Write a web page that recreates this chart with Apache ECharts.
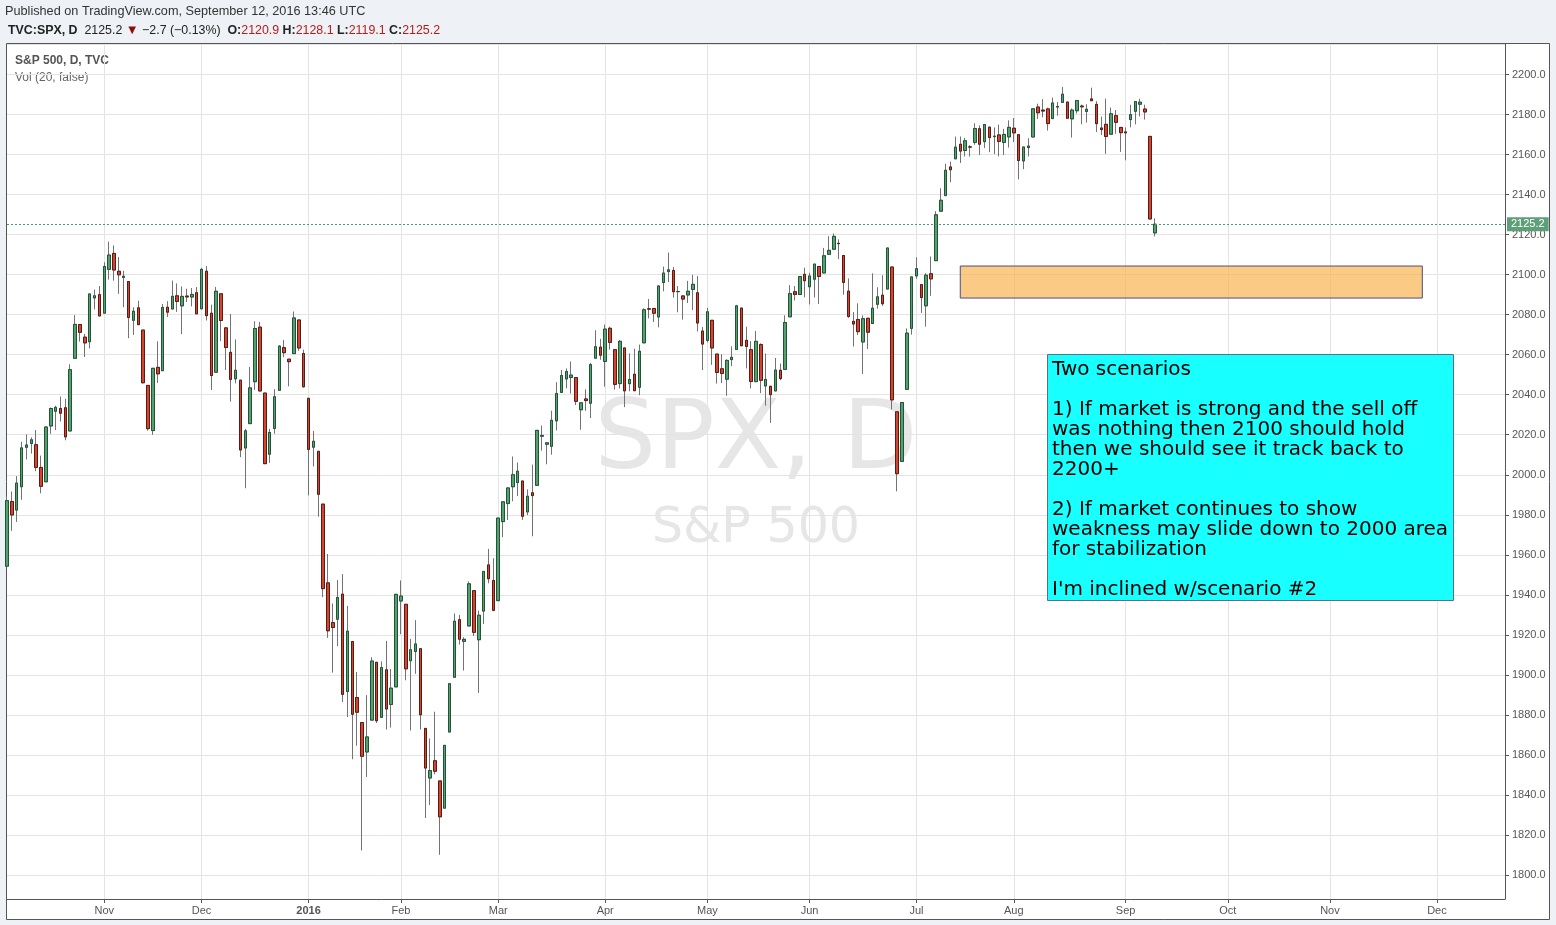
<!DOCTYPE html>
<html>
<head>
<meta charset="utf-8">
<title>SPX, D</title>
<script src="https://cdn.jsdelivr.net/npm/echarts@6/dist/echarts.min.js"></script>
<style>
  html, body { margin: 0; padding: 0; background: #eef1f5; }
  #chart { width: 1556px; height: 925px; }
</style>
</head>
<body>
<div id="chart"></div>
<script>
// daily S&P 500 bars, Oct 5 2015 .. Sep 12 2016 (one row per month)
const openPx = [
  1954.33, 1986.63, 1982.34, 1994.01, 2013.73, 2015.65, 2015.00, 2003.66, 1996.47, 2024.37, 2031.73, 2033.13, 2033.47, 2021.88, 2058.19, 2075.08, 2068.75, 2066.48, 2088.35, 2090.00,
  2080.76, 2102.63, 2110.60, 2101.68, 2098.60, 2096.56, 2077.19, 2083.41, 2072.29, 2044.64, 2022.08, 2053.67, 2051.99, 2083.70, 2082.82, 2089.41, 2084.42, 2089.30, 2088.82, 2090.95,
  2082.93, 2101.71, 2080.71, 2051.24, 2090.42, 2073.39, 2061.17, 2047.93, 2047.27, 2013.37, 2025.55, 2046.50, 2073.76, 2040.81, 2010.27, 2023.15, 2042.20, 2063.52, 2057.77, 2060.54, 2077.34, 2060.59,
  2038.20, 2013.78, 2011.71, 1985.32, 1945.97, 1926.12, 1927.83, 1940.34, 1891.68, 1916.68, 1888.66, 1876.18, 1861.46, 1877.40, 1906.28, 1878.79, 1902.52, 1885.22, 1894.00,
  1936.94, 1935.26, 1907.07, 1911.67, 1913.07, 1873.25, 1848.46, 1857.10, 1847.00, 1833.40, 1871.44, 1898.80, 1927.57, 1916.74, 1924.44, 1942.08, 1917.56, 1931.87, 1954.95, 1947.13,
  1937.09, 1976.60, 1985.60, 1994.01, 1996.11, 1996.88, 1981.44, 1990.97, 1994.71, 2019.27, 2015.27, 2014.24, 2026.90, 2041.16, 2047.88, 2048.64, 2048.55, 2032.48, 2037.89, 2035.75, 2058.27, 2063.77,
  2056.62, 2073.19, 2062.50, 2045.56, 2063.37, 2045.54, 2050.23, 2043.72, 2065.92, 2082.89, 2083.10, 2078.83, 2096.05, 2101.52, 2102.09, 2091.49, 2089.37, 2089.84, 2092.57, 2090.93, 2071.82,
  2067.17, 2077.18, 2060.30, 2052.95, 2047.77, 2057.55, 2062.63, 2083.29, 2067.17, 2062.50, 2046.53, 2065.04, 2044.38, 2044.21, 2041.88, 2052.23, 2052.65, 2078.93, 2091.44, 2090.06, 2100.13,
  2093.94, 2097.71, 2104.07, 2100.83, 2110.18, 2112.71, 2115.65, 2109.57, 2091.75, 2076.65, 2077.60, 2066.36, 2078.20, 2075.58, 2085.19, 2089.75, 2092.80, 2103.81, 2031.45, 2006.67, 2042.69, 2073.17,
  2099.34, 2095.05, 2084.43, 2100.42, 2106.97, 2131.72, 2139.50, 2153.81, 2157.88, 2165.13, 2162.04, 2163.79, 2166.10, 2172.91, 2166.47, 2173.71, 2168.97, 2169.81, 2166.05, 2168.83,
  2173.15, 2169.94, 2156.81, 2163.51, 2168.79, 2183.76, 2182.24, 2182.81, 2177.97, 2183.74, 2186.08, 2186.24, 2177.84, 2181.90, 2184.24, 2181.58, 2187.81, 2185.09, 2173.29, 2175.10, 2170.19, 2179.45, 2173.56,
  2171.33, 2177.49, 2181.61, 2185.17, 2182.76, 2169.08, 2120.86
]
const highPx = [
  1989.17, 1991.62, 1999.31, 2016.50, 2020.13, 2018.66, 2022.34, 2009.56, 2024.15, 2033.54, 2034.45, 2039.12, 2037.97, 2055.20, 2079.74, 2075.14, 2070.37, 2090.35, 2092.52, 2094.32,
  2106.20, 2116.48, 2114.59, 2108.78, 2101.91, 2096.56, 2083.67, 2086.94, 2072.29, 2044.64, 2053.22, 2066.69, 2085.31, 2086.74, 2097.06, 2095.61, 2094.12, 2093.00, 2093.29, 2093.81,
  2103.37, 2104.27, 2085.00, 2093.84, 2090.42, 2073.85, 2080.33, 2067.65, 2047.27, 2022.92, 2053.87, 2076.72, 2076.37, 2040.81, 2022.90, 2042.74, 2064.73, 2067.36, 2057.77, 2081.56, 2077.34, 2062.54,
  2038.20, 2021.94, 2011.71, 1985.32, 1960.40, 1935.65, 1947.38, 1950.33, 1934.47, 1916.68, 1901.44, 1876.18, 1889.85, 1908.85, 1906.28, 1906.73, 1916.99, 1902.96, 1940.24,
  1947.20, 1935.26, 1918.01, 1927.35, 1913.07, 1873.25, 1868.25, 1881.60, 1847.00, 1864.78, 1895.77, 1930.68, 1930.00, 1918.78, 1946.70, 1942.08, 1932.08, 1951.83, 1962.96, 1958.27,
  1978.35, 1986.51, 1993.69, 2009.13, 2006.12, 1996.88, 1992.69, 2005.08, 2022.37, 2024.57, 2015.94, 2032.02, 2046.24, 2052.36, 2053.13, 2056.60, 2048.55, 2036.04, 2042.67, 2055.91, 2072.21, 2067.92,
  2075.07, 2074.02, 2062.50, 2067.33, 2063.37, 2060.63, 2062.93, 2065.05, 2083.18, 2087.84, 2083.22, 2094.66, 2104.05, 2111.05, 2103.78, 2094.32, 2089.37, 2096.87, 2099.89, 2099.30, 2073.85,
  2083.42, 2077.18, 2060.30, 2060.23, 2057.72, 2064.15, 2084.87, 2083.29, 2073.99, 2066.79, 2071.88, 2065.69, 2060.61, 2044.21, 2058.35, 2055.58, 2079.67, 2094.73, 2094.30, 2099.06, 2103.48,
  2100.97, 2105.26, 2104.07, 2113.36, 2119.22, 2120.55, 2117.64, 2109.57, 2098.12, 2081.30, 2085.65, 2079.62, 2078.20, 2100.66, 2093.66, 2099.71, 2113.32, 2103.81, 2031.45, 2036.09, 2073.13, 2098.94,
  2108.71, 2095.05, 2100.72, 2109.08, 2131.71, 2143.16, 2155.40, 2156.45, 2168.99, 2169.05, 2168.35, 2164.63, 2175.63, 2174.56, 2175.11, 2173.71, 2173.54, 2174.98, 2172.85, 2177.09,
  2178.29, 2170.20, 2163.79, 2168.19, 2182.87, 2185.44, 2187.66, 2183.41, 2188.45, 2186.28, 2193.81, 2186.24, 2183.08, 2187.03, 2185.00, 2185.15, 2193.42, 2186.66, 2179.00, 2187.94, 2183.48, 2182.27, 2173.79,
  2173.56, 2184.87, 2186.57, 2187.87, 2184.94, 2169.08, 2128.10
]
const lowPx = [
  1954.33, 1971.99, 1976.44, 1987.53, 2007.61, 2010.55, 2001.78, 1990.73, 1996.47, 2020.46, 2022.31, 2026.61, 2017.22, 2021.88, 2058.19, 2066.53, 2058.84, 2063.11, 2082.63, 2079.34,
  2080.76, 2097.51, 2096.98, 2090.41, 2083.74, 2068.24, 2069.91, 2074.85, 2045.66, 2022.02, 2019.94, 2045.90, 2051.99, 2078.76, 2082.82, 2081.39, 2070.29, 2086.30, 2084.13, 2080.41,
  2082.93, 2077.11, 2042.35, 2051.24, 2066.78, 2052.32, 2036.53, 2045.67, 2008.80, 1993.26, 2025.55, 2042.43, 2041.66, 2005.33, 2005.93, 2020.49, 2042.20, 2058.73, 2044.20, 2060.54, 2061.97, 2043.62,
  1989.68, 2004.17, 1979.05, 1938.83, 1918.46, 1901.10, 1914.35, 1886.41, 1878.93, 1857.83, 1864.60, 1812.29, 1848.98, 1877.40, 1875.97, 1878.79, 1872.70, 1873.65, 1894.00,
  1920.30, 1897.29, 1872.23, 1900.52, 1872.65, 1828.46, 1834.94, 1850.32, 1810.10, 1833.40, 1871.44, 1898.80, 1915.09, 1902.17, 1924.44, 1919.44, 1891.00, 1925.41, 1945.78, 1931.81,
  1937.09, 1968.80, 1977.37, 1986.77, 1989.38, 1977.43, 1979.84, 1969.25, 1994.71, 2012.05, 2005.23, 2010.04, 2022.16, 2041.16, 2043.14, 2040.57, 2034.86, 2022.49, 2031.96, 2028.31, 2058.27, 2057.46,
  2043.98, 2062.57, 2042.56, 2043.09, 2033.80, 2041.69, 2041.88, 2039.74, 2065.92, 2078.13, 2076.31, 2073.65, 2091.68, 2096.32, 2088.52, 2081.20, 2077.52, 2085.80, 2082.31, 2071.62, 2052.28,
  2066.11, 2054.89, 2045.55, 2045.77, 2039.45, 2054.31, 2062.63, 2064.46, 2053.13, 2043.13, 2046.53, 2040.82, 2034.49, 2025.91, 2041.88, 2047.26, 2052.65, 2078.93, 2087.08, 2090.06, 2088.66,
  2085.10, 2088.59, 2085.36, 2100.83, 2110.18, 2112.71, 2107.73, 2089.96, 2078.46, 2064.10, 2069.80, 2050.37, 2062.84, 2075.58, 2083.02, 2084.36, 2092.80, 2032.57, 1991.68, 2006.67, 2042.69, 2070.00,
  2097.90, 2080.86, 2074.02, 2089.39, 2106.97, 2131.72, 2139.50, 2146.21, 2157.88, 2155.79, 2159.07, 2159.01, 2164.89, 2159.75, 2163.24, 2161.20, 2160.18, 2159.07, 2159.74, 2163.49,
  2166.21, 2147.58, 2152.70, 2159.07, 2168.79, 2177.85, 2178.61, 2172.00, 2177.97, 2179.42, 2186.08, 2178.14, 2168.50, 2180.46, 2175.13, 2175.96, 2186.80, 2171.25, 2169.74, 2160.39, 2170.19, 2170.41, 2161.35,
  2157.09, 2173.59, 2175.10, 2179.07, 2177.49, 2127.81, 2119.10
]
const closePx = [
  1987.05, 1979.92, 1995.83, 2013.43, 2014.89, 2017.46, 2003.69, 1994.24, 2023.86, 2033.11, 2033.66, 2030.77, 2018.94, 2052.51, 2075.15, 2071.18, 2065.89, 2090.35, 2089.41, 2079.36,
  2104.05, 2109.79, 2102.31, 2099.93, 2099.20, 2078.58, 2081.72, 2075.00, 2045.97, 2023.04, 2053.19, 2050.44, 2083.58, 2081.24, 2089.17, 2086.59, 2089.14, 2088.87, 2090.11, 2080.41,
  2102.63, 2079.51, 2049.62, 2091.69, 2077.07, 2063.59, 2047.62, 2052.23, 2012.37, 2021.94, 2043.41, 2073.07, 2041.89, 2005.55, 2021.15, 2038.97, 2064.29, 2060.99, 2056.50, 2078.36, 2063.36, 2043.94,
  2012.66, 2016.71, 1990.26, 1943.09, 1922.03, 1923.67, 1938.68, 1890.28, 1921.84, 1880.33, 1881.33, 1859.33, 1868.99, 1906.90, 1877.08, 1903.63, 1882.95, 1893.36, 1940.24,
  1939.38, 1903.03, 1912.53, 1915.45, 1880.05, 1853.44, 1852.21, 1851.86, 1829.08, 1864.78, 1895.58, 1926.82, 1917.83, 1917.78, 1945.50, 1921.27, 1929.80, 1951.70, 1948.05, 1932.23,
  1978.35, 1986.45, 1993.40, 1999.99, 2001.76, 1979.26, 1989.26, 1989.57, 2022.19, 2019.64, 2015.93, 2027.22, 2040.59, 2049.58, 2051.60, 2049.80, 2036.71, 2035.94, 2037.05, 2055.01, 2063.95, 2059.74,
  2072.78, 2066.13, 2045.17, 2066.66, 2041.91, 2047.60, 2041.99, 2061.72, 2082.42, 2082.78, 2080.73, 2094.34, 2100.80, 2102.40, 2091.48, 2091.58, 2087.79, 2091.70, 2095.15, 2075.81, 2065.30,
  2081.43, 2063.37, 2051.12, 2050.63, 2057.14, 2058.69, 2084.39, 2064.46, 2064.11, 2046.61, 2066.66, 2047.21, 2047.63, 2040.04, 2052.32, 2048.04, 2076.06, 2090.54, 2090.10, 2099.06, 2096.95,
  2099.33, 2105.26, 2099.13, 2109.41, 2112.13, 2119.12, 2115.48, 2096.07, 2079.06, 2075.32, 2071.50, 2077.99, 2071.22, 2083.25, 2088.90, 2085.45, 2113.32, 2037.41, 2000.54, 2036.09, 2070.77, 2098.86,
  2102.95, 2088.55, 2099.73, 2097.90, 2129.90, 2137.16, 2152.14, 2152.43, 2163.75, 2161.74, 2166.89, 2163.78, 2173.02, 2165.17, 2175.03, 2168.48, 2169.18, 2166.58, 2170.06, 2173.60,
  2170.84, 2157.03, 2163.79, 2164.25, 2182.87, 2180.89, 2181.74, 2175.49, 2185.79, 2184.05, 2190.15, 2178.15, 2182.22, 2187.02, 2183.87, 2182.64, 2186.90, 2175.44, 2172.47, 2169.04, 2180.38, 2176.12, 2170.95,
  2170.86, 2179.98, 2186.48, 2186.16, 2181.30, 2127.81, 2125.20
]

// calendar for the time axis (bars, then empty future days up to late Dec 2016)
const firstDay = '2015-10-05'
const axisEndDay = '2016-12-21'
const holidays = ['2015-11-26', '2015-12-25', '2016-01-01', '2016-01-18', '2016-02-15', '2016-03-25', '2016-05-30', '2016-07-04', '2016-09-05']
const monthNames = ['Jan', 'Feb', 'Mar', 'Apr', 'May', 'Jun', 'Jul', 'Aug', 'Sep', 'Oct', 'Nov', 'Dec']

// support zone and note (annotation, drawn by the author)
const zoneDays = ['2016-07-15', '2016-11-28']
const zonePrices = [2104.3, 2088.3]
const noteLines = [
  'Two scenarios',
  '',
  '1) If market is strong and the sell off',
  'was nothing then 2100 should hold',
  'then we should see it track back to',
  '2200+',
  '',
  '2) If market continues to show',
  'weakness may slide down to 2000 area',
  'for stabilization',
  '',
  "I'm inclined w/scenario #2"
]

function tradingDays() {
  const out = []
  const d = new Date(firstDay + 'T00:00:00Z')
  const end = new Date(axisEndDay + 'T00:00:00Z')
  while (d <= end) {
    const wd = d.getUTCDay()
    const s = d.toISOString().slice(0, 10)
    if (wd !== 0 && wd !== 6 && !holidays.includes(s)) out.push(s)
    d.setUTCDate(d.getUTCDate() + 1)
  }
  return out
}

const days = tradingDays()
const isMonthStart = i => i > 0 && days[i].slice(5, 7) !== days[i - 1].slice(5, 7)
const lastClose = closePx[closePx.length - 1]

const candles = closePx.map((c, i) => [openPx[i], c, lowPx[i], highPx[i]])
const bodies = closePx.map((c, i) => [openPx[i], c, Math.min(openPx[i], c), Math.max(openPx[i], c)])

const uiFont = '"Liberation Sans", Arial, sans-serif'
const wickColor = '#737375'
const gridColor = '#e4e4e4'
const axisColor = '#555'

const chart = echarts.init(document.getElementById('chart'))
chart.setOption({
  animation: false,
  backgroundColor: '#eef1f5',
  grid: { left: 7, right: 51, top: 44, bottom: 26 },
  xAxis: {
    type: 'category', data: days, boundaryGap: false,
    axisLine: { lineStyle: { color: axisColor } },
    axisTick: { interval: isMonthStart, length: 4, lineStyle: { color: axisColor } },
    axisLabel: {
      interval: isMonthStart, margin: 6, color: axisColor, fontSize: 11, fontFamily: uiFont,
      formatter: v => v.slice(5, 7) === '01' ? '{y|' + v.slice(0, 4) + '}' : monthNames[+v.slice(5, 7) - 1],
      rich: { y: { fontWeight: 'bold', fontSize: 11, fontFamily: uiFont, color: axisColor } }
    },
    splitLine: { show: true, interval: isMonthStart, lineStyle: { color: gridColor } }
  },
  yAxis: {
    type: 'value', position: 'right', min: 1788, max: 2215.25,
    splitNumber: 21, minInterval: 20, maxInterval: 20, scale: true,
    axisLine: { show: true, lineStyle: { color: axisColor } },
    axisTick: { show: true, length: 4, lineStyle: { color: axisColor } },
    axisLabel: { margin: 7, color: axisColor, fontSize: 11, fontFamily: uiFont, showMinLabel: false, showMaxLabel: false, formatter: v => v.toFixed(1) },
    splitLine: { lineStyle: { color: gridColor } }
  },
  series: [
    {
      type: 'candlestick', name: 'range', data: candles, barWidth: 3, z: 3,
      itemStyle: { color: wickColor, color0: wickColor, borderColor: wickColor, borderColor0: wickColor, borderWidth: 1 },
      markLine: {
        silent: true, symbol: ['none', 'none'],
        lineStyle: { color: '#4f9a6a', type: [2, 2], width: 1 },
        label: {
          position: 'end', distance: 2, formatter: p => p.value.toFixed(1),
          color: '#fff', backgroundColor: '#5e9e78', padding: [2, 4, 1, 4], fontSize: 11, fontFamily: uiFont
        },
        data: [{ yAxis: lastClose }]
      }
    },
    {
      type: 'candlestick', name: 'SPX', data: bodies, barWidth: 3, z: 4,
      itemStyle: { color: '#55a06f', color0: '#d4452f', borderColor: '#225437', borderColor0: '#5b1a13', borderWidth: 1 },
      markArea: {
        silent: true,
        itemStyle: { color: 'rgba(250,180,80,0.7)', borderColor: '#4a4f82', borderWidth: 1 },
        data: [[{ xAxis: zoneDays[0], yAxis: zonePrices[0] }, { xAxis: zoneDays[1], yAxis: zonePrices[1] }]]
      }
    }
  ],
  graphic: [
    { type: 'rect', z: -20, silent: true, shape: { x: 6.5, y: 43.5, width: 1543, height: 876 }, style: { fill: '#fff', stroke: '#555', lineWidth: 1 } },
    { type: 'text', z: -10, silent: true, style: { text: 'SPX, D', x: 756, y: 443, textAlign: 'center', textVerticalAlign: 'middle', font: '97px "DejaVu Sans"', fill: '#e6e6e6' } },
    { type: 'text', z: -10, silent: true, style: { text: 'S&P 500', x: 756, y: 529, textAlign: 'center', textVerticalAlign: 'middle', font: '49px "DejaVu Sans"', fill: '#e6e6e6' } },
    { type: 'text', silent: true, style: { text: 'Published on TradingView.com, September 12, 2016 13:46 UTC', x: 5, y: 5, font: '12.7px ' + uiFont, fill: '#333' } },
    {
      type: 'text', silent: true,
      style: {
        x: 8, y: 24, font: '12.4px ' + uiFont, fill: '#222',
        text: '{b|TVC:SPX, D}  {n|2125.2 }{t|▼}{n| −2.7 (−0.13%)}  {b|O:}{r|2120.9} {b|H:}{r|2128.1} {b|L:}{r|2119.1} {b|C:}{r|2125.2}',
        rich: {
          b: { fontWeight: 'bold', fontSize: 12.4, fontFamily: uiFont, fill: '#222' },
          n: { fontSize: 12.4, fontFamily: uiFont, fill: '#222' },
          t: { fontSize: 13, fontFamily: uiFont, fill: '#8e0c0c' },
          r: { fontSize: 12.4, fontFamily: uiFont, fill: '#b21c1c' }
        }
      }
    },
    { type: 'text', silent: true, style: { text: 'S&P 500, D, TVC', x: 15, y: 55, font: 'bold 12px ' + uiFont, fill: '#555' } },
    { type: 'text', silent: true, style: { text: 'Vol (20, false)', x: 15, y: 72, font: '12px ' + uiFont, fill: '#666' } },
    { type: 'rect', z: 10, silent: true, shape: { x: 1047.5, y: 354.5, width: 406, height: 246 }, style: { fill: '#18ffff', stroke: '#5b6e8e', lineWidth: 1 } },
    { type: 'text', z: 11, silent: true, style: { text: noteLines.join('\n'), x: 1052, y: 360, font: '20px "DejaVu Sans"', lineHeight: 20, fill: '#000' } }
  ]
})
</script>
</body>
</html>
